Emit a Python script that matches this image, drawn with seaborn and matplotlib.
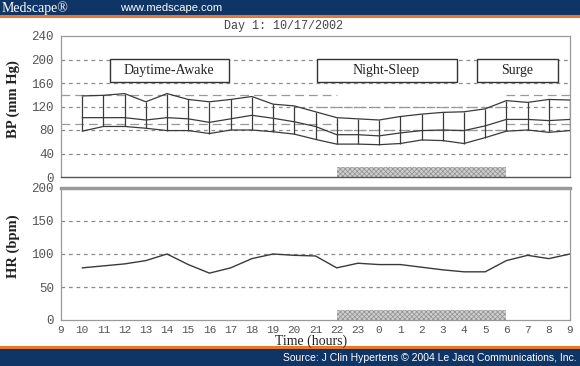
import matplotlib
matplotlib.use("Agg")
import matplotlib.pyplot as plt
import seaborn as sns
import pandas as pd
from matplotlib.patches import Rectangle

# ---------------- data ----------------
hour_labels = [10, 11, 12, 13, 14, 15, 16, 17, 18, 19, 20, 21, 22, 23,
               0, 1, 2, 3, 4, 5, 6, 7, 8, 9]
sbp = [138, 139, 142, 128, 142, 132, 128, 132, 137, 124, 121, 111, 101, 99,
       97, 103, 107, 110, 111, 116, 130, 127, 132, 131]
mbp = [101, 101, 101, 97, 101, 99, 93, 99, 105, 100, 94, 86, 72, 72,
       70, 75, 79, 80, 79, 87, 98, 98, 96, 98]
dbp = [78, 86, 86, 83, 79, 79, 74, 80, 80, 77, 73, 64, 56, 56,
       55, 57, 63, 62, 57, 67, 78, 80, 76, 79]
hr = [79, 82, 85, 90, 100, 84, 71, 79, 93, 100, 98, 97, 79, 86,
      84, 84, 80, 76, 73, 73, 90, 98, 93, 100]
axis_hours = [9, 10, 11, 12, 13, 14, 15, 16, 17, 18, 19, 20, 21, 22, 23,
              0, 1, 2, 3, 4, 5, 6, 7, 8, 9]
bp_ticks = [0, 40, 80, 120, 160, 200, 240]
hr_ticks = [0, 50, 100, 150, 200]
day_limits = [140, 90]
night_limits = [120, 80]
sleep_period = [22, 30]
periods = ["Daytime-Awake", "Night-Sleep", "Surge"]
period_spans = [(11.3, 16.9), (21.05, 27.65), (28.6, 32.45)]
title = "Day 1: 10/17/2002"

# positions on a continuous clock (hours after midnight of day 1)
pos = list(range(10, 34))
axis_pos = list(range(9, 34))
df = pd.DataFrame({"t": pos, "sbp": sbp, "mbp": mbp, "dbp": dbp, "hr": hr})

sns.set_style("white")
plt.rcParams["hatch.linewidth"] = 0.5
mono = ["Liberation Mono", "DejaVu Sans Mono"]
serif = ["Liberation Serif", "DejaVu Serif"]

W, H = 580, 366
fig = plt.figure(figsize=(W / 100, H / 100), dpi=100)
fig.patch.set_facecolor("white")

def frac(x0, y0, x1, y1):
    return [x0 / W, 1 - y1 / H, (x1 - x0) / W, (y1 - y0) / H]

ax1 = fig.add_axes(frac(61, 36, 570, 177))
ax2 = fig.add_axes(frac(61, 188, 570, 320))

line_col = "#3a3a3a"
grid_col = "#8c8c8c"

for ax in (ax1, ax2):
    ax.set_xlim(9, 33)
    ax.set_xticks(axis_pos)
    ax.tick_params(axis="x", direction="out", length=3, width=0.8, colors="#777777",
                   labelsize=8, pad=0.5)
    ax.tick_params(axis="y", direction="out", length=4, width=0.8, colors="#777777",
                   labelsize=9, pad=1)
    ax.set_facecolor("white")

# ---------------- top panel: BP ----------------
ax1.set_ylim(0, 240)
ax1.set_yticks(bp_ticks)
ax1.set_yticklabels([str(v) for v in bp_ticks], fontfamily=mono, color="#555555")
ax1.set_xticklabels([])
for v in bp_ticks[1:-1]:
    ax1.axhline(v, color=grid_col, lw=0.9, ls=(0, (3, 3)), zorder=1)
# reference limits
for v in day_limits:
    ax1.hlines(v, 9, sleep_period[0], color="#9a9a9a", lw=0.9, ls=(0, (7, 4)), zorder=1)
    ax1.hlines(v, sleep_period[1], 33, color="#9a9a9a", lw=0.9, ls=(0, (7, 4)), zorder=1)
for v in night_limits:
    ax1.hlines(v, sleep_period[0] - 1, sleep_period[1], color="#9a9a9a", lw=0.9,
               ls=(0, (7, 4)), zorder=1)

for col in ["sbp", "mbp", "dbp"]:
    sns.lineplot(data=df, x="t", y=col, ax=ax1, color=line_col, lw=0.9, zorder=3)
ax1.vlines(df["t"], df["dbp"], df["sbp"], color=line_col, lw=0.9, zorder=3)

ax1.fill_between(sleep_period, 0, 17, facecolor="#cfcfcf", edgecolor="#8f8f8f",
                 hatch="xxxxxxx", lw=0, zorder=2)

for name, (a, b) in zip(periods, period_spans):
    ax1.add_patch(Rectangle((a, 162), b - a, 38, fc="white", ec="#333333", lw=1.0,
                            zorder=4))
    ax1.text((a + b) / 2, 181, name, ha="center", va="center", fontsize=10,
             fontfamily=serif, color="#222222", zorder=5)

ax1.set_xlabel("")
ax1.set_ylabel("")
for s in ["left", "right", "top"]:
    ax1.spines[s].set_color("#999999")
    ax1.spines[s].set_linewidth(0.9)
ax1.spines["bottom"].set_color("#555555")
ax1.spines["bottom"].set_linewidth(1.0)

# ---------------- bottom panel: HR ----------------
ax2.set_ylim(0, 200)
ax2.set_yticks(hr_ticks)
ax2.set_yticklabels([str(v) for v in hr_ticks], fontfamily=mono, color="#555555")
ax2.set_xticklabels([str(h) for h in axis_hours], fontfamily=mono, color="#555555")
for v in hr_ticks[1:-1]:
    ax2.axhline(v, color=grid_col, lw=0.9, ls=(0, (3, 3)), zorder=1)
sns.lineplot(data=df, x="t", y="hr", ax=ax2, color=line_col, lw=1.0, zorder=3)
ax2.fill_between(sleep_period, 0, 15, facecolor="#cfcfcf", edgecolor="#8f8f8f",
                 hatch="xxxxxxx", lw=0, zorder=2)
ax2.set_xlabel("")
ax2.set_ylabel("")
for s in ["left", "right", "bottom"]:
    ax2.spines[s].set_color("#999999")
    ax2.spines[s].set_linewidth(0.9)
ax2.spines["top"].set_color("#9a9a9a")
ax2.spines["top"].set_linewidth(2.5)

# ---------------- texts ----------------
fig.text(283 / W, 1 - 26 / H, title, ha="center", va="center", fontsize=8.5,
         fontfamily=mono, color="#444444")
fig.text(13 / W, 1 - 99 / H, "BP (mm Hg)", rotation=90, ha="center", va="center",
         fontsize=10.5, fontfamily=serif, fontweight="bold", color="#222222")
fig.text(13 / W, 1 - 246 / H, "HR (bpm)", rotation=90, ha="center", va="center",
         fontsize=10.5, fontfamily=serif, fontweight="bold", color="#222222")
fig.text(311 / W, 1 - 341.5 / H, "Time (hours)", ha="center", va="center",
         fontsize=10, fontfamily=serif, color="#222222")

# header / footer bands
navy = "#0f3566"
orange = "#e8772e"
fig.patches.append(Rectangle((0, 1 - 15 / H), 1, 15 / H, transform=fig.transFigure,
                             fc=navy, ec="none", zorder=0))
fig.patches.append(Rectangle((0, 1 - 18 / H), 1, 3 / H, transform=fig.transFigure,
                             fc=orange, ec="none", zorder=0))
fig.patches.append(Rectangle((0, 0), 1, 17 / H, transform=fig.transFigure,
                             fc=navy, ec="none", zorder=0))
fig.patches.append(Rectangle((0, 17 / H), 1, 3 / H, transform=fig.transFigure,
                             fc=orange, ec="none", zorder=0))
fig.text(2 / W, 1 - 8 / H, "Medscape\u00ae", ha="left", va="center", fontsize=10,
         fontfamily=serif, color="white")
fig.text(120 / W, 1 - 8 / H, "www.medscape.com", ha="left", va="center", fontsize=8,
         fontfamily=["Liberation Sans", "DejaVu Sans"], color="white")
fig.text(577 / W, 8 / H, "Source: J Clin Hypertens \u00a9 2004 Le Jacq Communications, Inc.",
         ha="right", va="center", fontsize=7.5,
         fontfamily=["Liberation Sans", "DejaVu Sans"], color="white")

fig.savefig("out.png", dpi=100)
